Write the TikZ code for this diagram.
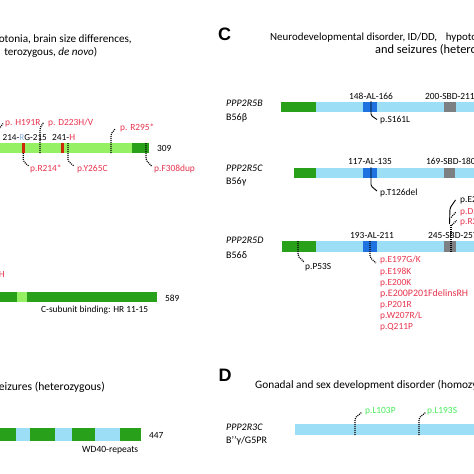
\documentclass[tikz,border=0pt]{standalone}
\usepackage{graphicx}
\usepackage{fontspec}
\setmainfont{Carlito}
\newfontfamily\arialfont{Liberation Sans}
\definecolor{lgreen}{RGB}{150,240,100}
\definecolor{dgreen}{RGB}{40,160,25}
\definecolor{lblue}{RGB}{155,222,245}
\definecolor{alblue}{RGB}{30,115,225}
\definecolor{sgray}{RGB}{125,128,130}
\definecolor{mred}{RGB}{232,52,78}
\definecolor{barred}{RGB}{205,40,10}
\definecolor{rblue}{RGB}{140,175,225}
\definecolor{lgtext}{RGB}{70,235,90}
\newlength\fitTmpW
% scale #3 so that #2 (its leading part) is #1 pt wide
\newcommand\fitTxt[3]{\settowidth{\fitTmpW}{#2}\pgfmathsetmacro\fitFac{#1/\fitTmpW}\scalebox{\fitFac}{#3}}
\tikzset{
  lab/.style={font=\fontsize{9.4}{11}\selectfont, inner sep=0pt, anchor=base west},
  labe/.style={lab, anchor=base east},
  mut/.style={lab, text=mred},
  ttl/.style={font=\fontsize{10.5}{12}\selectfont, inner sep=0pt, anchor=base west},
  ttle/.style={ttl, anchor=base east},
  gene/.style={font=\fontsize{10}{12}\selectfont, inner sep=0pt, anchor=base west},
  panel/.style={font=\arialfont\bfseries\fontsize{18}{20}\selectfont, inner sep=0pt},
  dotln/.style={line width=1.2pt, dash pattern=on 1pt off 1pt, rounded corners=1.5pt},
  solidln/.style={line width=0.9pt, rounded corners=1.5pt}
}
\begin{document}
\begin{tikzpicture}[x=1pt,y=-1pt]
\useasboundingbox (0,0) rectangle (474,474);
\clip (0,0) rectangle (474,474);
\fill[white] (0,0) rectangle (474,474);

% ---------------- Panel A (cropped) ----------------
\node[ttle] (atitle1) at (132,42) {\fitTxt{133}{otonia, brain size differences,}{otonia, brain size differences,}};
\node[ttle] (atitle2) at (97.5,55.5) {\fitTxt{93}{terozygous, \textit{de novo})}{terozygous, \textit{de novo})}};

\fill[lgreen] (-5,143) rectangle (149,153);
\fill[dgreen] (132,143) rectangle (149,153);
\fill[barred] (21.5,143) rectangle (25,153);
\fill[barred] (60.5,143) rectangle (64,153);

\node[mut] (h191r) at (5,125) {p. H191R};
\node[mut] (d223) at (48,125) {p. D223H/V};
\node[labe] (rg) at (47,140) {\fitTxt{44}{214-RG-215}{214-\textcolor{rblue}{R}G-215}};
\node[lab] (h241) at (52,140) {241-\textcolor{mred}{H}};
\node[mut] (r295) at (120,130) {p. R295*};
\node[lab] (n309) at (157,151) {309};
\node[mut] (r214) at (30,171) {p.R214*};
\node[mut] (y265) at (77,171) {p.Y265C};
\node[mut] (f308) at (154,171) {p.F308dup};

\coordinate (a191) at (-1,129);
\coordinate (a191e) at (3,123.5);
\coordinate (a214) at (23.2,153);
\coordinate (a223) at (40,153);
\coordinate (a265) at (68,143);
\coordinate (a295) at (111,153);
\coordinate (a308) at (146,143);
\draw[dotln] (a191) -- (a191e);
\draw[dotln] (a214) -- (23.2,161) -- (28.5,166);
\draw[dotln] (a223) -- (40,128) -- (43.5,122.5);
\draw[dotln] (a265) -- (68,161) -- (74,166);
\draw[dotln] (a295) -- (111,134) -- (115.5,128.5);
\draw[dotln] (a308) -- (146,160) -- (151.5,166);

\node[labe, text=mred] (hred) at (5,277) {H};
\fill[dgreen] (-5,292) rectangle (157,302);
\fill[lgreen] (17,292) rectangle (27,302);
\node[lab] (n589) at (165,301) {589};
\node[lab] (csub) at (41,312) {\fitTxt{107}{C-subunit binding: HR 11-15}{C-subunit binding: HR 11-15}};

\node[ttle] (btitle) at (105,390.5) {\fitTxt{106}{eizures (heterozygous)}{eizures (heterozygous)}};
\fill[dgreen] (-5,428) rectangle (16,441);
\fill[lblue] (16,428) rectangle (30,441);
\fill[dgreen] (30,428) rectangle (55,441);
\fill[lblue] (55,428) rectangle (72,441);
\fill[dgreen] (72,428) rectangle (95,441);
\fill[lblue] (95,428) rectangle (120,441);
\fill[dgreen] (120,428) rectangle (141,441);
\node[lab] (n447) at (149,438) {447};
\node[lab] (wd40) at (82,452) {\fitTxt{56}{WD40-repeats}{WD40-repeats}};

% ---------------- Panel C ----------------
\node[panel] (pC) at (224.5,34.5) {C};
\node[ttl] (ctitle1) at (270,40.5) {\fitTxt{167}{Neurodevelopmental disorder, ID/DD,}{Neurodevelopmental disorder, ID/DD,\hspace{0.8em}hypotonia}};
\node[ttl] (ctitle2) at (375,53.5) {\fitTxt{62}{and seizures}{and seizures (heterozygous}};

% PPP2R5B
\node[gene] (g5b) at (226,106.5) {\textit{PPP2R5B}};
\node[gene] (p5b) at (226,120.5) {B56β};
\fill[lblue] (316,102) rectangle (480,112);
\fill[dgreen] (281,102) rectangle (316,112);
\fill[alblue] (363,102) rectangle (377,112);
\fill[sgray] (444,102) rectangle (456,112);
\node[lab] (al5b) at (349,99) {148-AL-166};
\node[lab] (sbd5b) at (425,99) {200-SBD-211};
\node[lab] (s161) at (380,122) {p.S161L};
\coordinate (b161) at (371,101);
\draw[solidln] (b161) -- (371,115.5) -- (377,119.5);

% PPP2R5C
\node[gene] (g5c) at (226,171.5) {\textit{PPP2R5C}};
\node[gene] (p5c) at (226,184.5) {B56γ};
\fill[lblue] (316,168) rectangle (480,178);
\fill[dgreen] (294,168) rectangle (316,178);
\fill[alblue] (363,168) rectangle (377,178);
\fill[sgray] (444,168) rectangle (455,178);
\node[lab] (al5c) at (348,164) {117-AL-135};
\node[lab] (sbd5c) at (426,164) {169-SBD-180};
\node[lab] (t126) at (380,195) {p.T126del};
\coordinate (c126) at (371,167);
\draw[solidln] (c126) -- (371,186) -- (377,191);

% PPP2R5D
\node[gene] (g5d) at (226,243.5) {\textit{PPP2R5D}};
\node[gene] (p5d) at (226,258.5) {B56δ};
\fill[lblue] (316,241) rectangle (480,252);
\fill[dgreen] (282,241) rectangle (316,252);
\fill[alblue] (363,241) rectangle (377,252);
\fill[sgray] (444,241) rectangle (456,252);
\node[lab] (al5d) at (350,238) {193-AL-211};
\node[lab] (sbd5d) at (428,238) {245-SBD-257};
\node[lab] (p53) at (305,269) {p.P53S};
\coordinate (d53) at (298,241);
\draw[dotln] (d53) -- (298,256) -- (304,262);
\coordinate (d197) at (370,241);
\draw[dotln] (d197) -- (370,257.5) -- (376,263);
\node[mut] (m1) at (380,262) {p.E197G/K};
\node[mut] (m2) at (380,274) {p.E198K};
\node[mut] (m3) at (380,285) {p.E200K};
\node[mut] (m4) at (380,296) {\fitTxt{88}{p.E200P201FdelinsRH}{p.E200P201FdelinsRH}};
\node[mut] (m5) at (380,307) {p.P201R};
\node[mut] (m6) at (380,318) {p.W207R/L};
\node[mut] (m7) at (380,329) {p.Q211P};

\coordinate (dsbd) at (451,252);
\draw[dotln] (dsbd) -- (451,224);
\draw[solidln] (449.5,224) -- (450,208) -- (455.5,200);
\draw[dotln] (451,217.5) -- (456,212);
\draw[dotln] (452,225) -- (456.5,220.5);
\node[lab] (me) at (460,202) {p.E2};
\node[mut] (md) at (460,214) {p.D2};
\node[mut] (mr) at (460,224.5) {p.R2};

% ---------------- Panel D ----------------
\node[panel] (pD) at (225,375) {D};
\node[ttl] (dtitle) at (255,388.5) {\fitTxt{180}{Gonadal and sex development disorder}{Gonadal and sex development disorder (homozygous)}};
\node[gene] (g3c) at (226,430) {\textit{PPP2R3C}};
\node[gene] (p3c) at (226,443.5) {B’’γ/G5PR};
\fill[lblue] (295,424) rectangle (480,435);
\node[lab, text=lgtext] (l103) at (365,413) {p.L103P};
\node[lab, text=lgtext] (l193) at (427,413) {p.L193S};
\coordinate (e103) at (355,435);
\coordinate (e193) at (419,435);
\draw[dotln] (e103) -- (355,418) -- (361.5,412.5);
\draw[dotln] (e193) -- (419,418) -- (425.5,412.5);
\end{tikzpicture}
\end{document}
